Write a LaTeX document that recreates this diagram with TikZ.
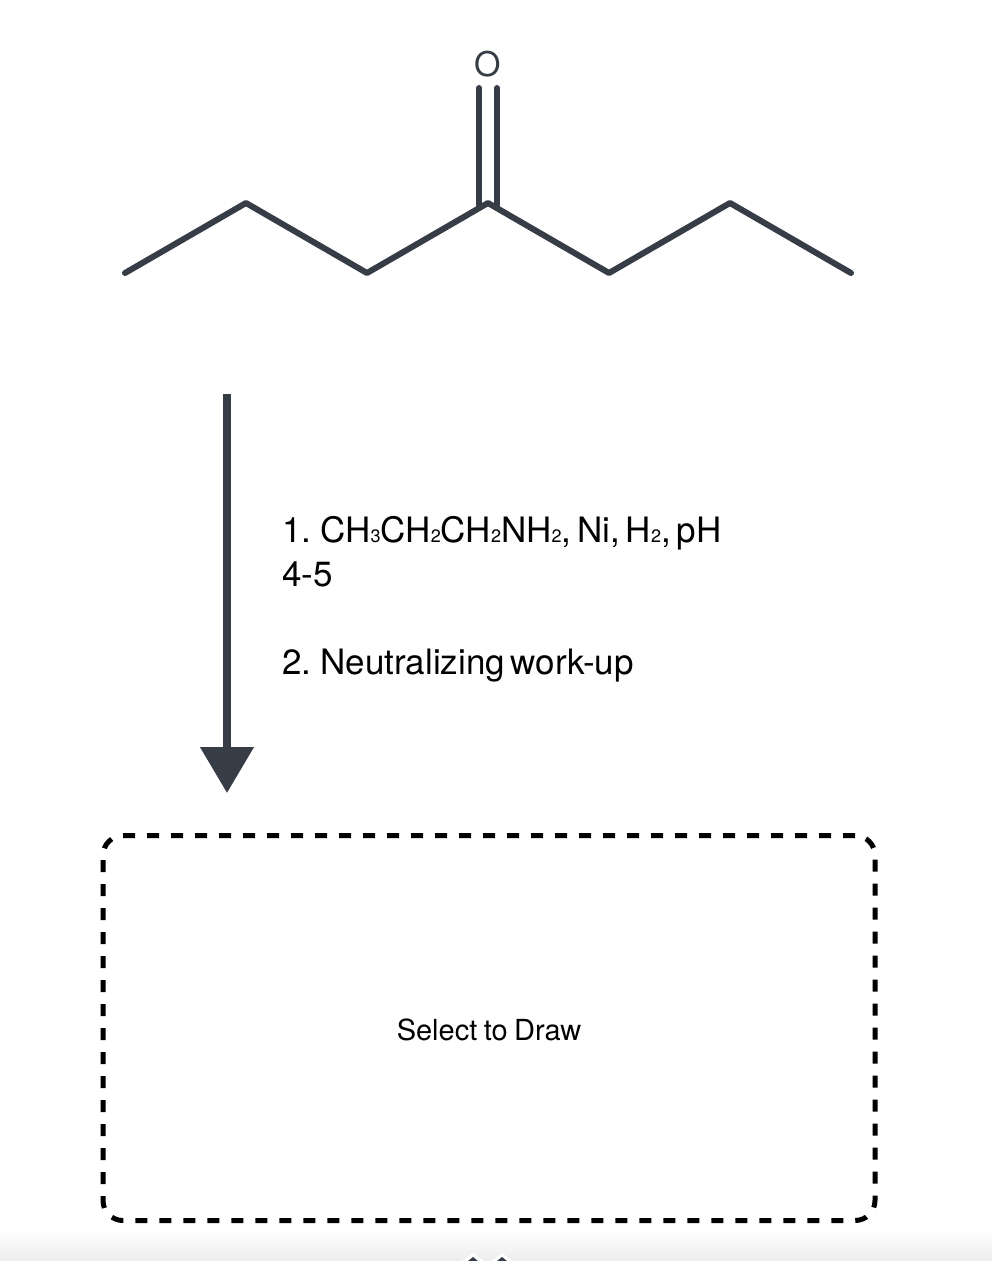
\documentclass[tikz,border=0pt]{standalone}
\usepackage{fontspec}
\setmainfont[WordSpace=0.8]{TeX Gyre Heros}
\newfontfamily\reagentfont[WordSpace=0.6]{TeX Gyre Heros}
\usetikzlibrary{arrows.meta}
\definecolor{bondgray}{HTML}{373D47}
\newcommand{\subdig}[1]{{\fontsize{18}{18}\selectfont #1}}
\tikzset{
  bond/.style={draw=bondgray, line width=6pt, line cap=round, line join=round},
  reaction/.style={draw=bondgray, line width=8pt, -{Triangle[width=52pt,length=46pt]}},
  selectbox/.style={draw=black, line width=5pt, dash pattern=on 12pt off 12pt, rounded corners=20pt,
    minimum width=772pt, minimum height=385pt, inner sep=0pt, font=\fontsize{29}{32}\selectfont},
  reagents/.style={align=left, inner sep=0pt, anchor=north west, font=\reagentfont\fontsize{35}{44}\selectfont}
}
\begin{document}
\begin{tikzpicture}[x=1pt,y=-1pt]
\useasboundingbox (0,0) rectangle (992,1261);
\clip (0,0) rectangle (992,1261);
\fill[white] (0,0) rectangle (992,1261);
\shade[top color=white, bottom color=black!7] (0,1228) rectangle (992,1261);
% chain
\coordinate (c1) at (125,273);
\coordinate (c2) at (246,203);
\coordinate (c3) at (367,273);
\coordinate (c4) at (488,203);
\coordinate (c5) at (609,273);
\coordinate (c6) at (730,203);
\coordinate (c7) at (851,273);
\node[text=bondgray, inner sep=0pt, font=\fontsize{34}{34}\selectfont] (oxygen) at (488,64) {O};
\coordinate (o1) at (479,88);
\coordinate (o2) at (497,88);
\coordinate (b1) at (479,207);
\coordinate (b2) at (497,207);
\draw[bond] (o1) -- (b1);
\draw[bond] (o2) -- (b2);
\draw[bond] (c1) -- (c2) -- (c3) -- (c4) -- (c5) -- (c6) -- (c7);
% arrow
\coordinate (start) at (227,394);
\coordinate (end) at (227,793);
\draw[reaction] (start) -- (end);
\node[reagents] (text) at (282,516) {1. CH\subdig{3}CH\subdig{2}CH\subdig{2}NH\subdig{2}, Ni, H\subdig{2}, pH\\4-5\\\mbox{}\\2. Neutralizing work-up};
% answer box
\node[selectbox] (answer) at (489,1028) {\raisebox{-2pt}[\height][\depth]{Select to Draw}};
% cut off handle
\fill[white] (462,1261) -- (473,1253) -- (484,1261) -- cycle;
\fill[white] (491,1261) -- (502,1253) -- (513,1261) -- cycle;
\fill[bondgray] (468,1261) -- (473,1257) -- (478,1261) -- cycle;
\fill[bondgray] (497,1261) -- (502,1257) -- (507,1261) -- cycle;
\end{tikzpicture}
\end{document}
